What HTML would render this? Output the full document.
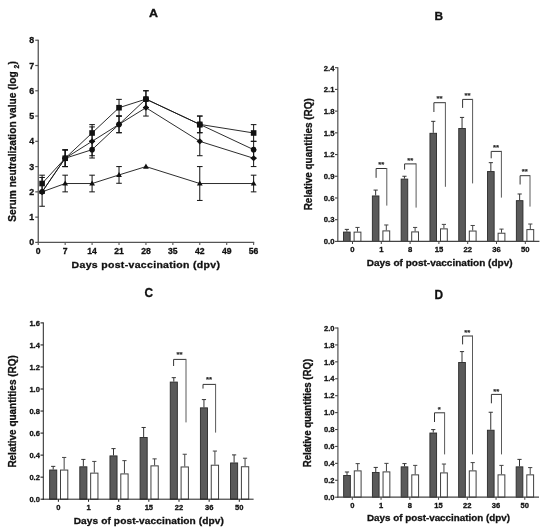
<!DOCTYPE html>
<html><head><meta charset="utf-8"><title>Figure</title>
<style>
html,body{margin:0;padding:0;background:#fff;}
svg{display:block;font-family:"Liberation Sans", Arial, Helvetica, sans-serif;}
</style></head>
<body>
<svg width="550" height="532" viewBox="0 0 550 532">
<rect width="550" height="532" fill="#fff"/>
<text transform="translate(153.50 16.80) scale(1.1433 1)" font-size="10.9" text-anchor="middle" font-weight="bold" fill="#111" stroke="#111" stroke-width="0.3">A</text>
<line x1="38.25" y1="39.74" x2="38.25" y2="243.10" stroke="#555" stroke-width="1.3"/>
<line x1="37.55" y1="242.40" x2="254.23" y2="242.40" stroke="#555" stroke-width="1.3"/>
<line x1="35.25" y1="242.40" x2="38.25" y2="242.40" stroke="#555" stroke-width="1.2"/>
<text transform="translate(34.25 245.40) scale(0.9800 1)" font-size="9.0" text-anchor="end" font-weight="bold" fill="#111" stroke="#111" stroke-width="0.3">0</text>
<line x1="35.25" y1="217.13" x2="38.25" y2="217.13" stroke="#555" stroke-width="1.2"/>
<text transform="translate(34.25 220.13) scale(0.9800 1)" font-size="9.0" text-anchor="end" font-weight="bold" fill="#111" stroke="#111" stroke-width="0.3">1</text>
<line x1="35.25" y1="191.86" x2="38.25" y2="191.86" stroke="#555" stroke-width="1.2"/>
<text transform="translate(34.25 194.86) scale(0.9800 1)" font-size="9.0" text-anchor="end" font-weight="bold" fill="#111" stroke="#111" stroke-width="0.3">2</text>
<line x1="35.25" y1="166.59" x2="38.25" y2="166.59" stroke="#555" stroke-width="1.2"/>
<text transform="translate(34.25 169.59) scale(0.9800 1)" font-size="9.0" text-anchor="end" font-weight="bold" fill="#111" stroke="#111" stroke-width="0.3">3</text>
<line x1="35.25" y1="141.32" x2="38.25" y2="141.32" stroke="#555" stroke-width="1.2"/>
<text transform="translate(34.25 144.32) scale(0.9800 1)" font-size="9.0" text-anchor="end" font-weight="bold" fill="#111" stroke="#111" stroke-width="0.3">4</text>
<line x1="35.25" y1="116.05" x2="38.25" y2="116.05" stroke="#555" stroke-width="1.2"/>
<text transform="translate(34.25 119.05) scale(0.9800 1)" font-size="9.0" text-anchor="end" font-weight="bold" fill="#111" stroke="#111" stroke-width="0.3">5</text>
<line x1="35.25" y1="90.78" x2="38.25" y2="90.78" stroke="#555" stroke-width="1.2"/>
<text transform="translate(34.25 93.78) scale(0.9800 1)" font-size="9.0" text-anchor="end" font-weight="bold" fill="#111" stroke="#111" stroke-width="0.3">6</text>
<line x1="35.25" y1="65.51" x2="38.25" y2="65.51" stroke="#555" stroke-width="1.2"/>
<text transform="translate(34.25 68.51) scale(0.9800 1)" font-size="9.0" text-anchor="end" font-weight="bold" fill="#111" stroke="#111" stroke-width="0.3">7</text>
<line x1="35.25" y1="40.24" x2="38.25" y2="40.24" stroke="#555" stroke-width="1.2"/>
<text transform="translate(34.25 43.24) scale(0.9800 1)" font-size="9.0" text-anchor="end" font-weight="bold" fill="#111" stroke="#111" stroke-width="0.3">8</text>
<line x1="38.25" y1="242.40" x2="38.25" y2="245.00" stroke="#555" stroke-width="1.1"/>
<text transform="translate(38.25 254.10) scale(0.9600 1)" font-size="9.0" text-anchor="middle" font-weight="bold" fill="#111" stroke="#111" stroke-width="0.3">0</text>
<line x1="65.17" y1="242.40" x2="65.17" y2="245.00" stroke="#555" stroke-width="1.1"/>
<text transform="translate(65.17 254.10) scale(0.9600 1)" font-size="9.0" text-anchor="middle" font-weight="bold" fill="#111" stroke="#111" stroke-width="0.3">7</text>
<line x1="92.09" y1="242.40" x2="92.09" y2="245.00" stroke="#555" stroke-width="1.1"/>
<text transform="translate(92.09 254.10) scale(0.9600 1)" font-size="9.0" text-anchor="middle" font-weight="bold" fill="#111" stroke="#111" stroke-width="0.3">14</text>
<line x1="119.02" y1="242.40" x2="119.02" y2="245.00" stroke="#555" stroke-width="1.1"/>
<text transform="translate(119.02 254.10) scale(0.9600 1)" font-size="9.0" text-anchor="middle" font-weight="bold" fill="#111" stroke="#111" stroke-width="0.3">21</text>
<line x1="145.94" y1="242.40" x2="145.94" y2="245.00" stroke="#555" stroke-width="1.1"/>
<text transform="translate(145.94 254.10) scale(0.9600 1)" font-size="9.0" text-anchor="middle" font-weight="bold" fill="#111" stroke="#111" stroke-width="0.3">28</text>
<line x1="172.86" y1="242.40" x2="172.86" y2="245.00" stroke="#555" stroke-width="1.1"/>
<text transform="translate(172.86 254.10) scale(0.9600 1)" font-size="9.0" text-anchor="middle" font-weight="bold" fill="#111" stroke="#111" stroke-width="0.3">35</text>
<line x1="199.78" y1="242.40" x2="199.78" y2="245.00" stroke="#555" stroke-width="1.1"/>
<text transform="translate(199.78 254.10) scale(0.9600 1)" font-size="9.0" text-anchor="middle" font-weight="bold" fill="#111" stroke="#111" stroke-width="0.3">42</text>
<line x1="226.70" y1="242.40" x2="226.70" y2="245.00" stroke="#555" stroke-width="1.1"/>
<text transform="translate(226.70 254.10) scale(0.9600 1)" font-size="9.0" text-anchor="middle" font-weight="bold" fill="#111" stroke="#111" stroke-width="0.3">49</text>
<line x1="253.63" y1="242.40" x2="253.63" y2="245.00" stroke="#555" stroke-width="1.1"/>
<text transform="translate(253.63 254.10) scale(0.9600 1)" font-size="9.0" text-anchor="middle" font-weight="bold" fill="#111" stroke="#111" stroke-width="0.3">56</text>
<text transform="translate(16.20 141.50) rotate(-90) scale(0.9228 1)" font-size="11.0" text-anchor="middle" font-weight="bold" fill="#111" stroke="#111" stroke-width="0.3">Serum neutralization value (log <tspan font-size="7.4" dy="2.3">2</tspan><tspan dy="-2.3">)</tspan></text>
<text transform="translate(145.96 268.00) scale(1.0933 1)" font-size="9.6" text-anchor="middle" font-weight="bold" fill="#111" stroke="#111" stroke-width="0.3" letter-spacing="0.3">Days post-vaccination (dpv)</text>
<line x1="42.10" y1="175.18" x2="42.10" y2="191.86" stroke="#111" stroke-width="1.0"/>
<line x1="39.30" y1="175.18" x2="44.90" y2="175.18" stroke="#111" stroke-width="1.0"/>
<line x1="39.30" y1="191.86" x2="44.90" y2="191.86" stroke="#111" stroke-width="1.0"/>
<line x1="65.17" y1="149.91" x2="65.17" y2="166.59" stroke="#111" stroke-width="1.0"/>
<line x1="62.37" y1="149.91" x2="67.97" y2="149.91" stroke="#111" stroke-width="1.0"/>
<line x1="62.37" y1="166.59" x2="67.97" y2="166.59" stroke="#111" stroke-width="1.0"/>
<line x1="92.09" y1="124.64" x2="92.09" y2="141.32" stroke="#111" stroke-width="1.0"/>
<line x1="89.29" y1="124.64" x2="94.89" y2="124.64" stroke="#111" stroke-width="1.0"/>
<line x1="89.29" y1="141.32" x2="94.89" y2="141.32" stroke="#111" stroke-width="1.0"/>
<line x1="119.02" y1="99.37" x2="119.02" y2="116.05" stroke="#111" stroke-width="1.0"/>
<line x1="116.22" y1="99.37" x2="121.82" y2="99.37" stroke="#111" stroke-width="1.0"/>
<line x1="116.22" y1="116.05" x2="121.82" y2="116.05" stroke="#111" stroke-width="1.0"/>
<line x1="145.94" y1="90.78" x2="145.94" y2="107.46" stroke="#111" stroke-width="1.0"/>
<line x1="143.14" y1="90.78" x2="148.74" y2="90.78" stroke="#111" stroke-width="1.0"/>
<line x1="143.14" y1="107.46" x2="148.74" y2="107.46" stroke="#111" stroke-width="1.0"/>
<line x1="199.78" y1="116.05" x2="199.78" y2="132.73" stroke="#111" stroke-width="1.0"/>
<line x1="196.98" y1="116.05" x2="202.58" y2="116.05" stroke="#111" stroke-width="1.0"/>
<line x1="196.98" y1="132.73" x2="202.58" y2="132.73" stroke="#111" stroke-width="1.0"/>
<line x1="253.63" y1="124.64" x2="253.63" y2="141.32" stroke="#111" stroke-width="1.0"/>
<line x1="250.83" y1="124.64" x2="256.43" y2="124.64" stroke="#111" stroke-width="1.0"/>
<line x1="250.83" y1="141.32" x2="256.43" y2="141.32" stroke="#111" stroke-width="1.0"/>
<line x1="42.10" y1="177.46" x2="42.10" y2="206.26" stroke="#111" stroke-width="1.0"/>
<line x1="39.30" y1="177.46" x2="44.90" y2="177.46" stroke="#111" stroke-width="1.0"/>
<line x1="39.30" y1="206.26" x2="44.90" y2="206.26" stroke="#111" stroke-width="1.0"/>
<line x1="65.17" y1="149.91" x2="65.17" y2="166.59" stroke="#111" stroke-width="1.0"/>
<line x1="62.37" y1="149.91" x2="67.97" y2="149.91" stroke="#111" stroke-width="1.0"/>
<line x1="62.37" y1="166.59" x2="67.97" y2="166.59" stroke="#111" stroke-width="1.0"/>
<line x1="92.09" y1="141.32" x2="92.09" y2="158.00" stroke="#111" stroke-width="1.0"/>
<line x1="89.29" y1="141.32" x2="94.89" y2="141.32" stroke="#111" stroke-width="1.0"/>
<line x1="89.29" y1="158.00" x2="94.89" y2="158.00" stroke="#111" stroke-width="1.0"/>
<line x1="119.02" y1="116.05" x2="119.02" y2="132.73" stroke="#111" stroke-width="1.0"/>
<line x1="116.22" y1="116.05" x2="121.82" y2="116.05" stroke="#111" stroke-width="1.0"/>
<line x1="116.22" y1="132.73" x2="121.82" y2="132.73" stroke="#111" stroke-width="1.0"/>
<line x1="145.94" y1="90.78" x2="145.94" y2="107.46" stroke="#111" stroke-width="1.0"/>
<line x1="143.14" y1="90.78" x2="148.74" y2="90.78" stroke="#111" stroke-width="1.0"/>
<line x1="143.14" y1="107.46" x2="148.74" y2="107.46" stroke="#111" stroke-width="1.0"/>
<line x1="199.78" y1="116.05" x2="199.78" y2="132.73" stroke="#111" stroke-width="1.0"/>
<line x1="196.98" y1="116.05" x2="202.58" y2="116.05" stroke="#111" stroke-width="1.0"/>
<line x1="196.98" y1="132.73" x2="202.58" y2="132.73" stroke="#111" stroke-width="1.0"/>
<line x1="253.63" y1="141.32" x2="253.63" y2="158.00" stroke="#111" stroke-width="1.0"/>
<line x1="250.83" y1="141.32" x2="256.43" y2="141.32" stroke="#111" stroke-width="1.0"/>
<line x1="250.83" y1="158.00" x2="256.43" y2="158.00" stroke="#111" stroke-width="1.0"/>
<line x1="65.17" y1="149.91" x2="65.17" y2="166.59" stroke="#111" stroke-width="1.0"/>
<line x1="62.37" y1="149.91" x2="67.97" y2="149.91" stroke="#111" stroke-width="1.0"/>
<line x1="62.37" y1="166.59" x2="67.97" y2="166.59" stroke="#111" stroke-width="1.0"/>
<line x1="92.09" y1="126.92" x2="92.09" y2="155.72" stroke="#111" stroke-width="1.0"/>
<line x1="89.29" y1="126.92" x2="94.89" y2="126.92" stroke="#111" stroke-width="1.0"/>
<line x1="89.29" y1="155.72" x2="94.89" y2="155.72" stroke="#111" stroke-width="1.0"/>
<line x1="119.02" y1="116.05" x2="119.02" y2="132.73" stroke="#111" stroke-width="1.0"/>
<line x1="116.22" y1="116.05" x2="121.82" y2="116.05" stroke="#111" stroke-width="1.0"/>
<line x1="116.22" y1="132.73" x2="121.82" y2="132.73" stroke="#111" stroke-width="1.0"/>
<line x1="145.94" y1="99.37" x2="145.94" y2="116.05" stroke="#111" stroke-width="1.0"/>
<line x1="143.14" y1="99.37" x2="148.74" y2="99.37" stroke="#111" stroke-width="1.0"/>
<line x1="143.14" y1="116.05" x2="148.74" y2="116.05" stroke="#111" stroke-width="1.0"/>
<line x1="199.78" y1="126.92" x2="199.78" y2="155.72" stroke="#111" stroke-width="1.0"/>
<line x1="196.98" y1="126.92" x2="202.58" y2="126.92" stroke="#111" stroke-width="1.0"/>
<line x1="196.98" y1="155.72" x2="202.58" y2="155.72" stroke="#111" stroke-width="1.0"/>
<line x1="253.63" y1="149.91" x2="253.63" y2="166.59" stroke="#111" stroke-width="1.0"/>
<line x1="250.83" y1="149.91" x2="256.43" y2="149.91" stroke="#111" stroke-width="1.0"/>
<line x1="250.83" y1="166.59" x2="256.43" y2="166.59" stroke="#111" stroke-width="1.0"/>
<line x1="65.17" y1="175.18" x2="65.17" y2="191.86" stroke="#111" stroke-width="1.0"/>
<line x1="62.37" y1="175.18" x2="67.97" y2="175.18" stroke="#111" stroke-width="1.0"/>
<line x1="62.37" y1="191.86" x2="67.97" y2="191.86" stroke="#111" stroke-width="1.0"/>
<line x1="92.09" y1="175.18" x2="92.09" y2="191.86" stroke="#111" stroke-width="1.0"/>
<line x1="89.29" y1="175.18" x2="94.89" y2="175.18" stroke="#111" stroke-width="1.0"/>
<line x1="89.29" y1="191.86" x2="94.89" y2="191.86" stroke="#111" stroke-width="1.0"/>
<line x1="119.02" y1="166.59" x2="119.02" y2="183.27" stroke="#111" stroke-width="1.0"/>
<line x1="116.22" y1="166.59" x2="121.82" y2="166.59" stroke="#111" stroke-width="1.0"/>
<line x1="116.22" y1="183.27" x2="121.82" y2="183.27" stroke="#111" stroke-width="1.0"/>
<line x1="199.78" y1="166.59" x2="199.78" y2="200.45" stroke="#111" stroke-width="1.0"/>
<line x1="196.98" y1="166.59" x2="202.58" y2="166.59" stroke="#111" stroke-width="1.0"/>
<line x1="196.98" y1="200.45" x2="202.58" y2="200.45" stroke="#111" stroke-width="1.0"/>
<line x1="253.63" y1="175.18" x2="253.63" y2="191.86" stroke="#111" stroke-width="1.0"/>
<line x1="250.83" y1="175.18" x2="256.43" y2="175.18" stroke="#111" stroke-width="1.0"/>
<line x1="250.83" y1="191.86" x2="256.43" y2="191.86" stroke="#111" stroke-width="1.0"/>
<polyline points="42.10,183.52 65.17,158.25 92.09,132.98 119.02,107.71 145.94,99.12 199.78,124.39 253.63,132.98" fill="none" stroke="#151515" stroke-width="0.9"/>
<polyline points="42.10,191.86 65.17,158.25 92.09,149.66 119.02,124.39 145.94,99.12 199.78,124.39 253.63,149.66" fill="none" stroke="#151515" stroke-width="0.9"/>
<polyline points="42.10,191.86 65.17,158.25 92.09,141.32 119.02,124.39 145.94,107.71 199.78,141.32 253.63,158.25" fill="none" stroke="#151515" stroke-width="0.9"/>
<polyline points="42.10,191.86 65.17,183.52 92.09,183.52 119.02,174.93 145.94,166.59 199.78,183.52 253.63,183.52" fill="none" stroke="#151515" stroke-width="0.9"/>
<polygon points="42.10,188.86 45.00,193.96 39.20,193.96" fill="#111"/>
<polygon points="65.17,180.52 68.07,185.62 62.27,185.62" fill="#111"/>
<polygon points="92.09,180.52 94.99,185.62 89.19,185.62" fill="#111"/>
<polygon points="119.02,171.93 121.92,177.03 116.12,177.03" fill="#111"/>
<polygon points="145.94,163.59 148.84,168.69 143.04,168.69" fill="#111"/>
<polygon points="199.78,180.52 202.68,185.62 196.88,185.62" fill="#111"/>
<polygon points="253.63,180.52 256.53,185.62 250.73,185.62" fill="#111"/>
<polygon points="42.10,188.76 45.30,191.86 42.10,194.96 38.90,191.86" fill="#111"/>
<polygon points="65.17,155.15 68.37,158.25 65.17,161.35 61.97,158.25" fill="#111"/>
<polygon points="92.09,138.22 95.29,141.32 92.09,144.42 88.89,141.32" fill="#111"/>
<polygon points="119.02,121.29 122.22,124.39 119.02,127.49 115.82,124.39" fill="#111"/>
<polygon points="145.94,104.61 149.14,107.71 145.94,110.81 142.74,107.71" fill="#111"/>
<polygon points="199.78,138.22 202.98,141.32 199.78,144.42 196.58,141.32" fill="#111"/>
<polygon points="253.63,155.15 256.83,158.25 253.63,161.35 250.43,158.25" fill="#111"/>
<circle cx="42.10" cy="191.86" r="2.8" fill="#111"/>
<circle cx="65.17" cy="158.25" r="2.8" fill="#111"/>
<circle cx="92.09" cy="149.66" r="2.8" fill="#111"/>
<circle cx="119.02" cy="124.39" r="2.8" fill="#111"/>
<circle cx="145.94" cy="99.12" r="2.8" fill="#111"/>
<circle cx="199.78" cy="124.39" r="2.8" fill="#111"/>
<circle cx="253.63" cy="149.66" r="2.8" fill="#111"/>
<rect x="39.30" y="180.72" width="5.6" height="5.6" fill="#111"/>
<rect x="62.37" y="155.45" width="5.6" height="5.6" fill="#111"/>
<rect x="89.29" y="130.18" width="5.6" height="5.6" fill="#111"/>
<rect x="116.22" y="104.91" width="5.6" height="5.6" fill="#111"/>
<rect x="143.14" y="96.32" width="5.6" height="5.6" fill="#111"/>
<rect x="196.98" y="121.59" width="5.6" height="5.6" fill="#111"/>
<rect x="250.83" y="130.18" width="5.6" height="5.6" fill="#111"/>
<text transform="translate(438.80 20.00) scale(1.0092 1)" font-size="11.8" text-anchor="middle" font-weight="bold" fill="#111" stroke="#111" stroke-width="0.3">B</text>
<line x1="346.85" y1="229.39" x2="346.85" y2="231.63" stroke="#333" stroke-width="1"/>
<line x1="344.75" y1="229.39" x2="348.95" y2="229.39" stroke="#333" stroke-width="1.0"/>
<line x1="357.50" y1="227.43" x2="357.50" y2="231.63" stroke="#444" stroke-width="1"/>
<line x1="355.40" y1="227.43" x2="359.60" y2="227.43" stroke="#444" stroke-width="1.0"/>
<rect x="343.55" y="232.08" width="6.60" height="9.32" fill="#5a5a5a" stroke="#2a2a2a" stroke-width="0.9"/>
<rect x="354.10" y="232.13" width="6.80" height="9.27" fill="#fff" stroke="#404040" stroke-width="1.0"/>
<line x1="375.65" y1="190.09" x2="375.65" y2="195.51" stroke="#333" stroke-width="1"/>
<line x1="373.55" y1="190.09" x2="377.75" y2="190.09" stroke="#333" stroke-width="1.0"/>
<line x1="386.30" y1="224.97" x2="386.30" y2="230.40" stroke="#444" stroke-width="1"/>
<line x1="384.20" y1="224.97" x2="388.40" y2="224.97" stroke="#444" stroke-width="1.0"/>
<rect x="372.35" y="195.96" width="6.60" height="45.44" fill="#5a5a5a" stroke="#2a2a2a" stroke-width="0.9"/>
<rect x="382.90" y="230.90" width="6.80" height="10.50" fill="#fff" stroke="#404040" stroke-width="1.0"/>
<line x1="404.45" y1="176.26" x2="404.45" y2="178.65" stroke="#333" stroke-width="1"/>
<line x1="402.35" y1="176.26" x2="406.55" y2="176.26" stroke="#333" stroke-width="1.0"/>
<line x1="415.10" y1="227.43" x2="415.10" y2="231.41" stroke="#444" stroke-width="1"/>
<line x1="413.00" y1="227.43" x2="417.20" y2="227.43" stroke="#444" stroke-width="1.0"/>
<rect x="401.15" y="179.10" width="6.60" height="62.30" fill="#5a5a5a" stroke="#2a2a2a" stroke-width="0.9"/>
<rect x="411.70" y="231.91" width="6.80" height="9.49" fill="#fff" stroke="#404040" stroke-width="1.0"/>
<line x1="433.25" y1="121.33" x2="433.25" y2="132.84" stroke="#333" stroke-width="1"/>
<line x1="431.15" y1="121.33" x2="435.35" y2="121.33" stroke="#333" stroke-width="1.0"/>
<line x1="443.90" y1="224.39" x2="443.90" y2="228.37" stroke="#444" stroke-width="1"/>
<line x1="441.80" y1="224.39" x2="446.00" y2="224.39" stroke="#444" stroke-width="1.0"/>
<rect x="429.95" y="133.29" width="6.60" height="108.11" fill="#5a5a5a" stroke="#2a2a2a" stroke-width="0.9"/>
<rect x="440.50" y="228.87" width="6.80" height="12.53" fill="#fff" stroke="#404040" stroke-width="1.0"/>
<line x1="462.05" y1="117.42" x2="462.05" y2="128.06" stroke="#333" stroke-width="1"/>
<line x1="459.95" y1="117.42" x2="464.15" y2="117.42" stroke="#333" stroke-width="1.0"/>
<line x1="472.70" y1="225.48" x2="472.70" y2="230.54" stroke="#444" stroke-width="1"/>
<line x1="470.60" y1="225.48" x2="474.80" y2="225.48" stroke="#444" stroke-width="1.0"/>
<rect x="458.75" y="128.51" width="6.60" height="112.89" fill="#5a5a5a" stroke="#2a2a2a" stroke-width="0.9"/>
<rect x="469.30" y="231.04" width="6.80" height="10.36" fill="#fff" stroke="#404040" stroke-width="1.0"/>
<line x1="490.85" y1="162.66" x2="490.85" y2="171.12" stroke="#333" stroke-width="1"/>
<line x1="488.75" y1="162.66" x2="492.95" y2="162.66" stroke="#333" stroke-width="1.0"/>
<line x1="501.50" y1="229.10" x2="501.50" y2="232.72" stroke="#444" stroke-width="1"/>
<line x1="499.40" y1="229.10" x2="503.60" y2="229.10" stroke="#444" stroke-width="1.0"/>
<rect x="487.55" y="171.57" width="6.60" height="69.83" fill="#5a5a5a" stroke="#2a2a2a" stroke-width="0.9"/>
<rect x="498.10" y="233.22" width="6.80" height="8.19" fill="#fff" stroke="#404040" stroke-width="1.0"/>
<line x1="519.65" y1="193.99" x2="519.65" y2="200.22" stroke="#333" stroke-width="1"/>
<line x1="517.55" y1="193.99" x2="521.75" y2="193.99" stroke="#333" stroke-width="1.0"/>
<line x1="530.30" y1="224.03" x2="530.30" y2="229.10" stroke="#444" stroke-width="1"/>
<line x1="528.20" y1="224.03" x2="532.40" y2="224.03" stroke="#444" stroke-width="1.0"/>
<rect x="516.35" y="200.67" width="6.60" height="40.73" fill="#5a5a5a" stroke="#2a2a2a" stroke-width="0.9"/>
<rect x="526.90" y="229.60" width="6.80" height="11.80" fill="#fff" stroke="#404040" stroke-width="1.0"/>
<line x1="337.80" y1="67.20" x2="337.80" y2="242.00" stroke="#5c5c5c" stroke-width="1.3"/>
<line x1="337.20" y1="241.40" x2="539.40" y2="241.40" stroke="#444" stroke-width="1.3"/>
<line x1="335.00" y1="241.40" x2="337.80" y2="241.40" stroke="#444" stroke-width="1.1"/>
<text transform="translate(334.40 244.20) scale(0.9600 1)" font-size="8.0" text-anchor="end" font-weight="bold" fill="#111" stroke="#111" stroke-width="0.3">0.0</text>
<line x1="335.00" y1="219.69" x2="337.80" y2="219.69" stroke="#444" stroke-width="1.1"/>
<text transform="translate(334.40 222.49) scale(0.9600 1)" font-size="8.0" text-anchor="end" font-weight="bold" fill="#111" stroke="#111" stroke-width="0.3">0.3</text>
<line x1="335.00" y1="197.98" x2="337.80" y2="197.98" stroke="#444" stroke-width="1.1"/>
<text transform="translate(334.40 200.78) scale(0.9600 1)" font-size="8.0" text-anchor="end" font-weight="bold" fill="#111" stroke="#111" stroke-width="0.3">0.6</text>
<line x1="335.00" y1="176.26" x2="337.80" y2="176.26" stroke="#444" stroke-width="1.1"/>
<text transform="translate(334.40 179.06) scale(0.9600 1)" font-size="8.0" text-anchor="end" font-weight="bold" fill="#111" stroke="#111" stroke-width="0.3">0.9</text>
<line x1="335.00" y1="154.55" x2="337.80" y2="154.55" stroke="#444" stroke-width="1.1"/>
<text transform="translate(334.40 157.35) scale(0.9600 1)" font-size="8.0" text-anchor="end" font-weight="bold" fill="#111" stroke="#111" stroke-width="0.3">1.2</text>
<line x1="335.00" y1="132.84" x2="337.80" y2="132.84" stroke="#444" stroke-width="1.1"/>
<text transform="translate(334.40 135.64) scale(0.9600 1)" font-size="8.0" text-anchor="end" font-weight="bold" fill="#111" stroke="#111" stroke-width="0.3">1.5</text>
<line x1="335.00" y1="111.13" x2="337.80" y2="111.13" stroke="#444" stroke-width="1.1"/>
<text transform="translate(334.40 113.93) scale(0.9600 1)" font-size="8.0" text-anchor="end" font-weight="bold" fill="#111" stroke="#111" stroke-width="0.3">1.8</text>
<line x1="335.00" y1="89.41" x2="337.80" y2="89.41" stroke="#444" stroke-width="1.1"/>
<text transform="translate(334.40 92.21) scale(0.9600 1)" font-size="8.0" text-anchor="end" font-weight="bold" fill="#111" stroke="#111" stroke-width="0.3">2.1</text>
<line x1="335.00" y1="67.70" x2="337.80" y2="67.70" stroke="#444" stroke-width="1.1"/>
<text transform="translate(334.40 70.50) scale(0.9600 1)" font-size="8.0" text-anchor="end" font-weight="bold" fill="#111" stroke="#111" stroke-width="0.3">2.4</text>
<line x1="352.50" y1="241.40" x2="352.50" y2="244.00" stroke="#444" stroke-width="1.0"/>
<text transform="translate(352.50 252.00) scale(0.9600 1)" font-size="8.0" text-anchor="middle" font-weight="bold" fill="#111" stroke="#111" stroke-width="0.3">0</text>
<line x1="381.30" y1="241.40" x2="381.30" y2="244.00" stroke="#444" stroke-width="1.0"/>
<text transform="translate(381.30 252.00) scale(0.9600 1)" font-size="8.0" text-anchor="middle" font-weight="bold" fill="#111" stroke="#111" stroke-width="0.3">1</text>
<line x1="410.10" y1="241.40" x2="410.10" y2="244.00" stroke="#444" stroke-width="1.0"/>
<text transform="translate(410.10 252.00) scale(0.9600 1)" font-size="8.0" text-anchor="middle" font-weight="bold" fill="#111" stroke="#111" stroke-width="0.3">8</text>
<line x1="438.90" y1="241.40" x2="438.90" y2="244.00" stroke="#444" stroke-width="1.0"/>
<text transform="translate(438.90 252.00) scale(0.9600 1)" font-size="8.0" text-anchor="middle" font-weight="bold" fill="#111" stroke="#111" stroke-width="0.3">15</text>
<line x1="467.70" y1="241.40" x2="467.70" y2="244.00" stroke="#444" stroke-width="1.0"/>
<text transform="translate(467.70 252.00) scale(0.9600 1)" font-size="8.0" text-anchor="middle" font-weight="bold" fill="#111" stroke="#111" stroke-width="0.3">22</text>
<line x1="496.50" y1="241.40" x2="496.50" y2="244.00" stroke="#444" stroke-width="1.0"/>
<text transform="translate(496.50 252.00) scale(0.9600 1)" font-size="8.0" text-anchor="middle" font-weight="bold" fill="#111" stroke="#111" stroke-width="0.3">36</text>
<line x1="525.30" y1="241.40" x2="525.30" y2="244.00" stroke="#444" stroke-width="1.0"/>
<text transform="translate(525.30 252.00) scale(0.9600 1)" font-size="8.0" text-anchor="middle" font-weight="bold" fill="#111" stroke="#111" stroke-width="0.3">50</text>
<text transform="translate(311.90 154.30) rotate(-90) scale(0.9042 1)" font-size="11.0" text-anchor="middle" font-weight="bold" fill="#111" stroke="#111" stroke-width="0.3">Relative quantities (RQ)</text>
<text transform="translate(439.60 265.70) scale(1.0339 1)" font-size="9.7" text-anchor="middle" font-weight="bold" fill="#111" stroke="#111" stroke-width="0.3">Days of post-vaccination (dpv)</text>
<polyline points="376.10,177.80 376.10,168.50 386.80,168.50" fill="none" stroke="#333" stroke-width="1"/>
<line x1="386.80" y1="168.00" x2="386.80" y2="205.60" stroke="#5a5a5a" stroke-width="1"/>
<text transform="translate(381.25 167.20) scale(1.0000 1)" font-size="7.7" text-anchor="middle" font-weight="bold" fill="#222" stroke="#222" stroke-width="0.15">**</text>
<polyline points="404.60,169.60 404.60,163.90 416.10,163.90" fill="none" stroke="#333" stroke-width="1"/>
<line x1="416.10" y1="163.40" x2="416.10" y2="207.60" stroke="#5a5a5a" stroke-width="1"/>
<text transform="translate(410.15 162.60) scale(1.0000 1)" font-size="7.7" text-anchor="middle" font-weight="bold" fill="#222" stroke="#222" stroke-width="0.15">**</text>
<polyline points="433.90,112.00 433.90,102.70 445.40,102.70" fill="none" stroke="#333" stroke-width="1"/>
<line x1="445.40" y1="102.20" x2="445.40" y2="186.80" stroke="#5a5a5a" stroke-width="1"/>
<text transform="translate(439.45 101.40) scale(1.0000 1)" font-size="7.7" text-anchor="middle" font-weight="bold" fill="#222" stroke="#222" stroke-width="0.15">**</text>
<polyline points="462.60,107.90 462.60,99.40 472.60,99.40" fill="none" stroke="#333" stroke-width="1"/>
<line x1="472.60" y1="98.90" x2="472.60" y2="183.40" stroke="#5a5a5a" stroke-width="1"/>
<text transform="translate(467.40 98.10) scale(1.0000 1)" font-size="7.7" text-anchor="middle" font-weight="bold" fill="#222" stroke="#222" stroke-width="0.15">**</text>
<polyline points="491.20,158.30 491.20,151.40 501.40,151.40" fill="none" stroke="#333" stroke-width="1"/>
<line x1="501.40" y1="150.90" x2="501.40" y2="197.60" stroke="#5a5a5a" stroke-width="1"/>
<text transform="translate(496.10 150.10) scale(1.0000 1)" font-size="7.7" text-anchor="middle" font-weight="bold" fill="#222" stroke="#222" stroke-width="0.15">**</text>
<polyline points="520.10,184.50 520.10,175.70 530.00,175.70" fill="none" stroke="#333" stroke-width="1"/>
<line x1="530.00" y1="175.20" x2="530.00" y2="206.60" stroke="#5a5a5a" stroke-width="1"/>
<text transform="translate(524.85 174.40) scale(1.0000 1)" font-size="7.7" text-anchor="middle" font-weight="bold" fill="#222" stroke="#222" stroke-width="0.15">**</text>
<text transform="translate(148.90 297.20) scale(0.9451 1)" font-size="12.6" text-anchor="middle" font-weight="bold" fill="#111" stroke="#111" stroke-width="0.3">C</text>
<line x1="53.20" y1="466.36" x2="53.20" y2="469.56" stroke="#333" stroke-width="1"/>
<line x1="51.10" y1="466.36" x2="55.30" y2="466.36" stroke="#333" stroke-width="1.0"/>
<line x1="64.15" y1="457.44" x2="64.15" y2="469.56" stroke="#444" stroke-width="1"/>
<line x1="62.05" y1="457.44" x2="66.25" y2="457.44" stroke="#444" stroke-width="1.0"/>
<rect x="49.65" y="470.01" width="7.10" height="29.19" fill="#5a5a5a" stroke="#2a2a2a" stroke-width="0.9"/>
<rect x="60.50" y="470.06" width="7.30" height="29.14" fill="#fff" stroke="#404040" stroke-width="1.0"/>
<line x1="83.35" y1="459.42" x2="83.35" y2="466.36" stroke="#333" stroke-width="1"/>
<line x1="81.25" y1="459.42" x2="85.45" y2="459.42" stroke="#333" stroke-width="1.0"/>
<line x1="94.30" y1="461.41" x2="94.30" y2="472.64" stroke="#444" stroke-width="1"/>
<line x1="92.20" y1="461.41" x2="96.40" y2="461.41" stroke="#444" stroke-width="1.0"/>
<rect x="79.80" y="466.81" width="7.10" height="32.39" fill="#5a5a5a" stroke="#2a2a2a" stroke-width="0.9"/>
<rect x="90.65" y="473.14" width="7.30" height="26.06" fill="#fff" stroke="#404040" stroke-width="1.0"/>
<line x1="113.50" y1="448.62" x2="113.50" y2="455.46" stroke="#333" stroke-width="1"/>
<line x1="111.40" y1="448.62" x2="115.60" y2="448.62" stroke="#333" stroke-width="1.0"/>
<line x1="124.45" y1="460.63" x2="124.45" y2="473.42" stroke="#444" stroke-width="1"/>
<line x1="122.35" y1="460.63" x2="126.55" y2="460.63" stroke="#444" stroke-width="1.0"/>
<rect x="109.95" y="455.91" width="7.10" height="43.29" fill="#5a5a5a" stroke="#2a2a2a" stroke-width="0.9"/>
<rect x="120.80" y="473.92" width="7.30" height="25.28" fill="#fff" stroke="#404040" stroke-width="1.0"/>
<line x1="143.65" y1="427.47" x2="143.65" y2="437.05" stroke="#333" stroke-width="1"/>
<line x1="141.55" y1="427.47" x2="145.75" y2="427.47" stroke="#333" stroke-width="1.0"/>
<line x1="154.60" y1="458.87" x2="154.60" y2="465.37" stroke="#444" stroke-width="1"/>
<line x1="152.50" y1="458.87" x2="156.70" y2="458.87" stroke="#444" stroke-width="1.0"/>
<rect x="140.10" y="437.50" width="7.10" height="61.70" fill="#5a5a5a" stroke="#2a2a2a" stroke-width="0.9"/>
<rect x="150.95" y="465.87" width="7.30" height="33.33" fill="#fff" stroke="#404040" stroke-width="1.0"/>
<line x1="173.80" y1="377.66" x2="173.80" y2="381.63" stroke="#333" stroke-width="1"/>
<line x1="171.70" y1="377.66" x2="175.90" y2="377.66" stroke="#333" stroke-width="1.0"/>
<line x1="184.75" y1="454.24" x2="184.75" y2="466.47" stroke="#444" stroke-width="1"/>
<line x1="182.65" y1="454.24" x2="186.85" y2="454.24" stroke="#444" stroke-width="1.0"/>
<rect x="170.25" y="382.08" width="7.10" height="117.12" fill="#5a5a5a" stroke="#2a2a2a" stroke-width="0.9"/>
<rect x="181.10" y="466.97" width="7.30" height="32.23" fill="#fff" stroke="#404040" stroke-width="1.0"/>
<line x1="203.95" y1="399.59" x2="203.95" y2="407.41" stroke="#333" stroke-width="1"/>
<line x1="201.85" y1="399.59" x2="206.05" y2="399.59" stroke="#333" stroke-width="1.0"/>
<line x1="214.90" y1="451.05" x2="214.90" y2="464.71" stroke="#444" stroke-width="1"/>
<line x1="212.80" y1="451.05" x2="217.00" y2="451.05" stroke="#444" stroke-width="1.0"/>
<rect x="200.40" y="407.86" width="7.10" height="91.34" fill="#5a5a5a" stroke="#2a2a2a" stroke-width="0.9"/>
<rect x="211.25" y="465.21" width="7.30" height="33.99" fill="#fff" stroke="#404040" stroke-width="1.0"/>
<line x1="234.10" y1="454.90" x2="234.10" y2="462.51" stroke="#333" stroke-width="1"/>
<line x1="232.00" y1="454.90" x2="236.20" y2="454.90" stroke="#333" stroke-width="1.0"/>
<line x1="245.05" y1="458.21" x2="245.05" y2="466.25" stroke="#444" stroke-width="1"/>
<line x1="242.95" y1="458.21" x2="247.15" y2="458.21" stroke="#444" stroke-width="1.0"/>
<rect x="230.55" y="462.96" width="7.10" height="36.24" fill="#5a5a5a" stroke="#2a2a2a" stroke-width="0.9"/>
<rect x="241.40" y="466.75" width="7.30" height="32.45" fill="#fff" stroke="#404040" stroke-width="1.0"/>
<line x1="43.30" y1="322.40" x2="43.30" y2="499.80" stroke="#222" stroke-width="1.0"/>
<line x1="42.70" y1="499.20" x2="253.60" y2="499.20" stroke="#222" stroke-width="1.0"/>
<line x1="40.50" y1="499.20" x2="43.30" y2="499.20" stroke="#222" stroke-width="1.1"/>
<text transform="translate(39.90 501.93) scale(0.9700 1)" font-size="7.8" text-anchor="end" font-weight="bold" fill="#111" stroke="#111" stroke-width="0.3">0.0</text>
<line x1="40.50" y1="477.16" x2="43.30" y2="477.16" stroke="#222" stroke-width="1.1"/>
<text transform="translate(39.90 479.89) scale(0.9700 1)" font-size="7.8" text-anchor="end" font-weight="bold" fill="#111" stroke="#111" stroke-width="0.3">0.2</text>
<line x1="40.50" y1="455.12" x2="43.30" y2="455.12" stroke="#222" stroke-width="1.1"/>
<text transform="translate(39.90 457.86) scale(0.9700 1)" font-size="7.8" text-anchor="end" font-weight="bold" fill="#111" stroke="#111" stroke-width="0.3">0.4</text>
<line x1="40.50" y1="433.09" x2="43.30" y2="433.09" stroke="#222" stroke-width="1.1"/>
<text transform="translate(39.90 435.82) scale(0.9700 1)" font-size="7.8" text-anchor="end" font-weight="bold" fill="#111" stroke="#111" stroke-width="0.3">0.6</text>
<line x1="40.50" y1="411.05" x2="43.30" y2="411.05" stroke="#222" stroke-width="1.1"/>
<text transform="translate(39.90 413.78) scale(0.9700 1)" font-size="7.8" text-anchor="end" font-weight="bold" fill="#111" stroke="#111" stroke-width="0.3">0.8</text>
<line x1="40.50" y1="389.01" x2="43.30" y2="389.01" stroke="#222" stroke-width="1.1"/>
<text transform="translate(39.90 391.74) scale(0.9700 1)" font-size="7.8" text-anchor="end" font-weight="bold" fill="#111" stroke="#111" stroke-width="0.3">1.0</text>
<line x1="40.50" y1="366.97" x2="43.30" y2="366.97" stroke="#222" stroke-width="1.1"/>
<text transform="translate(39.90 369.70) scale(0.9700 1)" font-size="7.8" text-anchor="end" font-weight="bold" fill="#111" stroke="#111" stroke-width="0.3">1.2</text>
<line x1="40.50" y1="344.94" x2="43.30" y2="344.94" stroke="#222" stroke-width="1.1"/>
<text transform="translate(39.90 347.67) scale(0.9700 1)" font-size="7.8" text-anchor="end" font-weight="bold" fill="#111" stroke="#111" stroke-width="0.3">1.4</text>
<line x1="40.50" y1="322.90" x2="43.30" y2="322.90" stroke="#222" stroke-width="1.1"/>
<text transform="translate(39.90 325.63) scale(0.9700 1)" font-size="7.8" text-anchor="end" font-weight="bold" fill="#111" stroke="#111" stroke-width="0.3">1.6</text>
<line x1="58.40" y1="499.20" x2="58.40" y2="501.80" stroke="#222" stroke-width="1.0"/>
<text transform="translate(58.40 509.80) scale(0.9700 1)" font-size="7.8" text-anchor="middle" font-weight="bold" fill="#111" stroke="#111" stroke-width="0.3">0</text>
<line x1="88.55" y1="499.20" x2="88.55" y2="501.80" stroke="#222" stroke-width="1.0"/>
<text transform="translate(88.55 509.80) scale(0.9700 1)" font-size="7.8" text-anchor="middle" font-weight="bold" fill="#111" stroke="#111" stroke-width="0.3">1</text>
<line x1="118.70" y1="499.20" x2="118.70" y2="501.80" stroke="#222" stroke-width="1.0"/>
<text transform="translate(118.70 509.80) scale(0.9700 1)" font-size="7.8" text-anchor="middle" font-weight="bold" fill="#111" stroke="#111" stroke-width="0.3">8</text>
<line x1="148.85" y1="499.20" x2="148.85" y2="501.80" stroke="#222" stroke-width="1.0"/>
<text transform="translate(148.85 509.80) scale(0.9700 1)" font-size="7.8" text-anchor="middle" font-weight="bold" fill="#111" stroke="#111" stroke-width="0.3">15</text>
<line x1="179.00" y1="499.20" x2="179.00" y2="501.80" stroke="#222" stroke-width="1.0"/>
<text transform="translate(179.00 509.80) scale(0.9700 1)" font-size="7.8" text-anchor="middle" font-weight="bold" fill="#111" stroke="#111" stroke-width="0.3">22</text>
<line x1="209.15" y1="499.20" x2="209.15" y2="501.80" stroke="#222" stroke-width="1.0"/>
<text transform="translate(209.15 509.80) scale(0.9700 1)" font-size="7.8" text-anchor="middle" font-weight="bold" fill="#111" stroke="#111" stroke-width="0.3">36</text>
<line x1="239.30" y1="499.20" x2="239.30" y2="501.80" stroke="#222" stroke-width="1.0"/>
<text transform="translate(239.30 509.80) scale(0.9700 1)" font-size="7.8" text-anchor="middle" font-weight="bold" fill="#111" stroke="#111" stroke-width="0.3">50</text>
<text transform="translate(15.60 411.40) rotate(-90) scale(0.9417 1)" font-size="10.6" text-anchor="middle" font-weight="bold" fill="#111" stroke="#111" stroke-width="0.3">Relative quantities (RQ)</text>
<text transform="translate(148.85 523.80) scale(1.0332 1)" font-size="9.8" text-anchor="middle" font-weight="bold" fill="#111" stroke="#111" stroke-width="0.3" letter-spacing="0.1">Days of post-vaccination (dpv)</text>
<polyline points="173.60,366.00 173.60,359.40 186.00,359.40" fill="none" stroke="#333" stroke-width="1"/>
<line x1="186.00" y1="358.90" x2="186.00" y2="422.40" stroke="#5a5a5a" stroke-width="1"/>
<text transform="translate(179.60 357.40) scale(1.0000 1)" font-size="7.7" text-anchor="middle" font-weight="bold" fill="#222" stroke="#222" stroke-width="0.15">**</text>
<polyline points="203.00,388.60 203.00,384.40 215.60,384.40" fill="none" stroke="#333" stroke-width="1"/>
<line x1="215.60" y1="383.90" x2="215.60" y2="432.60" stroke="#5a5a5a" stroke-width="1"/>
<text transform="translate(209.10 382.40) scale(1.0000 1)" font-size="7.7" text-anchor="middle" font-weight="bold" fill="#222" stroke="#222" stroke-width="0.15">**</text>
<text transform="translate(438.80 299.00) scale(0.9603 1)" font-size="12.4" text-anchor="middle" font-weight="bold" fill="#111" stroke="#111" stroke-width="0.3">D</text>
<line x1="347.00" y1="471.99" x2="347.00" y2="475.03" stroke="#333" stroke-width="1"/>
<line x1="344.90" y1="471.99" x2="349.10" y2="471.99" stroke="#333" stroke-width="1.0"/>
<line x1="357.70" y1="463.61" x2="357.70" y2="470.38" stroke="#444" stroke-width="1"/>
<line x1="355.60" y1="463.61" x2="359.80" y2="463.61" stroke="#444" stroke-width="1.0"/>
<rect x="343.65" y="475.48" width="6.70" height="21.72" fill="#5a5a5a" stroke="#2a2a2a" stroke-width="0.9"/>
<rect x="354.30" y="470.88" width="6.80" height="26.32" fill="#fff" stroke="#404040" stroke-width="1.0"/>
<line x1="375.75" y1="467.42" x2="375.75" y2="471.99" stroke="#333" stroke-width="1"/>
<line x1="373.65" y1="467.42" x2="377.85" y2="467.42" stroke="#333" stroke-width="1.0"/>
<line x1="386.45" y1="463.36" x2="386.45" y2="471.40" stroke="#444" stroke-width="1"/>
<line x1="384.35" y1="463.36" x2="388.55" y2="463.36" stroke="#444" stroke-width="1.0"/>
<rect x="372.40" y="472.44" width="6.70" height="24.76" fill="#5a5a5a" stroke="#2a2a2a" stroke-width="0.9"/>
<rect x="383.05" y="471.90" width="6.80" height="25.30" fill="#fff" stroke="#404040" stroke-width="1.0"/>
<line x1="404.50" y1="463.61" x2="404.50" y2="466.41" stroke="#333" stroke-width="1"/>
<line x1="402.40" y1="463.61" x2="406.60" y2="463.61" stroke="#333" stroke-width="1.0"/>
<line x1="415.20" y1="465.39" x2="415.20" y2="474.36" stroke="#444" stroke-width="1"/>
<line x1="413.10" y1="465.39" x2="417.30" y2="465.39" stroke="#444" stroke-width="1.0"/>
<rect x="401.15" y="466.86" width="6.70" height="30.34" fill="#5a5a5a" stroke="#2a2a2a" stroke-width="0.9"/>
<rect x="411.80" y="474.86" width="6.80" height="22.34" fill="#fff" stroke="#404040" stroke-width="1.0"/>
<line x1="433.25" y1="429.60" x2="433.25" y2="432.57" stroke="#333" stroke-width="1"/>
<line x1="431.15" y1="429.60" x2="435.35" y2="429.60" stroke="#333" stroke-width="1.0"/>
<line x1="443.95" y1="464.04" x2="443.95" y2="472.41" stroke="#444" stroke-width="1"/>
<line x1="441.85" y1="464.04" x2="446.05" y2="464.04" stroke="#444" stroke-width="1.0"/>
<rect x="429.90" y="433.02" width="6.70" height="64.18" fill="#5a5a5a" stroke="#2a2a2a" stroke-width="0.9"/>
<rect x="440.55" y="472.91" width="6.80" height="24.29" fill="#fff" stroke="#404040" stroke-width="1.0"/>
<line x1="462.00" y1="351.60" x2="462.00" y2="362.01" stroke="#333" stroke-width="1"/>
<line x1="459.90" y1="351.60" x2="464.10" y2="351.60" stroke="#333" stroke-width="1.0"/>
<line x1="472.70" y1="462.60" x2="472.70" y2="470.38" stroke="#444" stroke-width="1"/>
<line x1="470.60" y1="462.60" x2="474.80" y2="462.60" stroke="#444" stroke-width="1.0"/>
<rect x="458.65" y="362.46" width="6.70" height="134.74" fill="#5a5a5a" stroke="#2a2a2a" stroke-width="0.9"/>
<rect x="469.30" y="470.88" width="6.80" height="26.32" fill="#fff" stroke="#404040" stroke-width="1.0"/>
<line x1="490.75" y1="412.26" x2="490.75" y2="429.77" stroke="#333" stroke-width="1"/>
<line x1="488.65" y1="412.26" x2="492.85" y2="412.26" stroke="#333" stroke-width="1.0"/>
<line x1="501.45" y1="465.39" x2="501.45" y2="474.36" stroke="#444" stroke-width="1"/>
<line x1="499.35" y1="465.39" x2="503.55" y2="465.39" stroke="#444" stroke-width="1.0"/>
<rect x="487.40" y="430.22" width="6.70" height="66.98" fill="#5a5a5a" stroke="#2a2a2a" stroke-width="0.9"/>
<rect x="498.05" y="474.86" width="6.80" height="22.34" fill="#fff" stroke="#404040" stroke-width="1.0"/>
<line x1="519.50" y1="459.38" x2="519.50" y2="466.41" stroke="#333" stroke-width="1"/>
<line x1="517.40" y1="459.38" x2="521.60" y2="459.38" stroke="#333" stroke-width="1.0"/>
<line x1="530.20" y1="467.59" x2="530.20" y2="474.36" stroke="#444" stroke-width="1"/>
<line x1="528.10" y1="467.59" x2="532.30" y2="467.59" stroke="#444" stroke-width="1.0"/>
<rect x="516.15" y="466.86" width="6.70" height="30.34" fill="#5a5a5a" stroke="#2a2a2a" stroke-width="0.9"/>
<rect x="526.80" y="474.86" width="6.80" height="22.34" fill="#fff" stroke="#404040" stroke-width="1.0"/>
<line x1="337.90" y1="327.50" x2="337.90" y2="497.80" stroke="#5c5c5c" stroke-width="1.3"/>
<line x1="337.30" y1="497.20" x2="539.00" y2="497.20" stroke="#444" stroke-width="1.3"/>
<line x1="335.10" y1="497.20" x2="337.90" y2="497.20" stroke="#444" stroke-width="1.1"/>
<text transform="translate(334.50 499.93) scale(0.9700 1)" font-size="7.8" text-anchor="end" font-weight="bold" fill="#111" stroke="#111" stroke-width="0.3">0.0</text>
<line x1="335.10" y1="480.28" x2="337.90" y2="480.28" stroke="#444" stroke-width="1.1"/>
<text transform="translate(334.50 483.01) scale(0.9700 1)" font-size="7.8" text-anchor="end" font-weight="bold" fill="#111" stroke="#111" stroke-width="0.3">0.2</text>
<line x1="335.10" y1="463.36" x2="337.90" y2="463.36" stroke="#444" stroke-width="1.1"/>
<text transform="translate(334.50 466.09) scale(0.9700 1)" font-size="7.8" text-anchor="end" font-weight="bold" fill="#111" stroke="#111" stroke-width="0.3">0.4</text>
<line x1="335.10" y1="446.44" x2="337.90" y2="446.44" stroke="#444" stroke-width="1.1"/>
<text transform="translate(334.50 449.17) scale(0.9700 1)" font-size="7.8" text-anchor="end" font-weight="bold" fill="#111" stroke="#111" stroke-width="0.3">0.6</text>
<line x1="335.10" y1="429.52" x2="337.90" y2="429.52" stroke="#444" stroke-width="1.1"/>
<text transform="translate(334.50 432.25) scale(0.9700 1)" font-size="7.8" text-anchor="end" font-weight="bold" fill="#111" stroke="#111" stroke-width="0.3">0.8</text>
<line x1="335.10" y1="412.60" x2="337.90" y2="412.60" stroke="#444" stroke-width="1.1"/>
<text transform="translate(334.50 415.33) scale(0.9700 1)" font-size="7.8" text-anchor="end" font-weight="bold" fill="#111" stroke="#111" stroke-width="0.3">1.0</text>
<line x1="335.10" y1="395.68" x2="337.90" y2="395.68" stroke="#444" stroke-width="1.1"/>
<text transform="translate(334.50 398.41) scale(0.9700 1)" font-size="7.8" text-anchor="end" font-weight="bold" fill="#111" stroke="#111" stroke-width="0.3">1.2</text>
<line x1="335.10" y1="378.76" x2="337.90" y2="378.76" stroke="#444" stroke-width="1.1"/>
<text transform="translate(334.50 381.49) scale(0.9700 1)" font-size="7.8" text-anchor="end" font-weight="bold" fill="#111" stroke="#111" stroke-width="0.3">1.4</text>
<line x1="335.10" y1="361.84" x2="337.90" y2="361.84" stroke="#444" stroke-width="1.1"/>
<text transform="translate(334.50 364.57) scale(0.9700 1)" font-size="7.8" text-anchor="end" font-weight="bold" fill="#111" stroke="#111" stroke-width="0.3">1.6</text>
<line x1="335.10" y1="344.92" x2="337.90" y2="344.92" stroke="#444" stroke-width="1.1"/>
<text transform="translate(334.50 347.65) scale(0.9700 1)" font-size="7.8" text-anchor="end" font-weight="bold" fill="#111" stroke="#111" stroke-width="0.3">1.8</text>
<line x1="335.10" y1="328.00" x2="337.90" y2="328.00" stroke="#444" stroke-width="1.1"/>
<text transform="translate(334.50 330.73) scale(0.9700 1)" font-size="7.8" text-anchor="end" font-weight="bold" fill="#111" stroke="#111" stroke-width="0.3">2.0</text>
<line x1="352.30" y1="497.20" x2="352.30" y2="499.80" stroke="#444" stroke-width="1.0"/>
<text transform="translate(352.30 507.80) scale(0.9700 1)" font-size="7.8" text-anchor="middle" font-weight="bold" fill="#111" stroke="#111" stroke-width="0.3">0</text>
<line x1="381.05" y1="497.20" x2="381.05" y2="499.80" stroke="#444" stroke-width="1.0"/>
<text transform="translate(381.05 507.80) scale(0.9700 1)" font-size="7.8" text-anchor="middle" font-weight="bold" fill="#111" stroke="#111" stroke-width="0.3">1</text>
<line x1="409.80" y1="497.20" x2="409.80" y2="499.80" stroke="#444" stroke-width="1.0"/>
<text transform="translate(409.80 507.80) scale(0.9700 1)" font-size="7.8" text-anchor="middle" font-weight="bold" fill="#111" stroke="#111" stroke-width="0.3">8</text>
<line x1="438.55" y1="497.20" x2="438.55" y2="499.80" stroke="#444" stroke-width="1.0"/>
<text transform="translate(438.55 507.80) scale(0.9700 1)" font-size="7.8" text-anchor="middle" font-weight="bold" fill="#111" stroke="#111" stroke-width="0.3">15</text>
<line x1="467.30" y1="497.20" x2="467.30" y2="499.80" stroke="#444" stroke-width="1.0"/>
<text transform="translate(467.30 507.80) scale(0.9700 1)" font-size="7.8" text-anchor="middle" font-weight="bold" fill="#111" stroke="#111" stroke-width="0.3">22</text>
<line x1="496.05" y1="497.20" x2="496.05" y2="499.80" stroke="#444" stroke-width="1.0"/>
<text transform="translate(496.05 507.80) scale(0.9700 1)" font-size="7.8" text-anchor="middle" font-weight="bold" fill="#111" stroke="#111" stroke-width="0.3">36</text>
<line x1="524.80" y1="497.20" x2="524.80" y2="499.80" stroke="#444" stroke-width="1.0"/>
<text transform="translate(524.80 507.80) scale(0.9700 1)" font-size="7.8" text-anchor="middle" font-weight="bold" fill="#111" stroke="#111" stroke-width="0.3">50</text>
<text transform="translate(311.30 413.10) rotate(-90) scale(0.9628 1)" font-size="10.0" text-anchor="middle" font-weight="bold" fill="#111" stroke="#111" stroke-width="0.3">Relative quantities (RQ)</text>
<text transform="translate(438.45 520.90) scale(1.0239 1)" font-size="9.6" text-anchor="middle" font-weight="bold" fill="#111" stroke="#111" stroke-width="0.3">Days of post-vaccination (dpv)</text>
<polyline points="434.50,422.00 434.50,412.80 444.60,412.80" fill="none" stroke="#333" stroke-width="1"/>
<line x1="444.60" y1="412.30" x2="444.60" y2="454.40" stroke="#5a5a5a" stroke-width="1"/>
<text transform="translate(439.35 412.20) scale(1.0000 1)" font-size="7.7" text-anchor="middle" font-weight="bold" fill="#222" stroke="#222" stroke-width="0.15">*</text>
<polyline points="462.60,344.40 462.60,336.00 472.50,336.00" fill="none" stroke="#333" stroke-width="1"/>
<line x1="472.50" y1="335.50" x2="472.50" y2="454.40" stroke="#5a5a5a" stroke-width="1"/>
<text transform="translate(467.35 335.40) scale(1.0000 1)" font-size="7.7" text-anchor="middle" font-weight="bold" fill="#222" stroke="#222" stroke-width="0.15">**</text>
<polyline points="491.40,403.30 491.40,394.40 501.50,394.40" fill="none" stroke="#333" stroke-width="1"/>
<line x1="501.50" y1="393.90" x2="501.50" y2="454.40" stroke="#5a5a5a" stroke-width="1"/>
<text transform="translate(496.25 393.80) scale(1.0000 1)" font-size="7.7" text-anchor="middle" font-weight="bold" fill="#222" stroke="#222" stroke-width="0.15">**</text>
</svg>
</body></html>
